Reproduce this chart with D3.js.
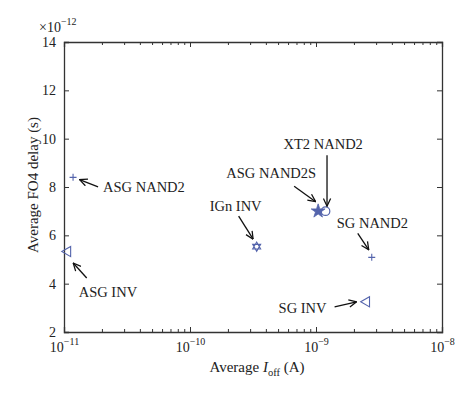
<!DOCTYPE html>
<html>
<head>
<meta charset="utf-8">
<script src="https://cdn.jsdelivr.net/npm/d3@7"></script>
<style>
  body { margin: 0; background: #fff; }
  text { font-family: "Liberation Serif", "Times New Roman", serif; fill: #222; }
</style>
</head>
<body>
<div id="chart"></div>
<script>
// gate designs, average off current (A) and average FO4 delay (x 1e-12 s)
var names  = ["ASG NAND2", "ASG INV", "IGn INV", "ASG NAND2S", "XT2 NAND2", "SG NAND2", "SG INV"];
var ioff   = [1.18e-11, 1.07e-11, 3.38e-10, 1.04e-9, 1.19e-9, 2.77e-9, 2.52e-9];
var delay  = [8.4, 5.33, 5.53, 7.0, 7.0, 5.09, 3.25];
var shapes = ["plus", "triLeft", "hexagram", "star", "circle", "plus", "triLeft"];

var xMajor = [1e-11, 1e-10, 1e-9, 1e-8];
var xExp   = ["\u221211", "\u221210", "\u22129", "\u22128"];
var yTicks = [2, 4, 6, 8, 10, 12, 14];

// label placement relative to the point: text start, arrow tail, arrow head (px)
var notes = [
  { anchor: "start", tx: 30,  ty: 14.5, ax: 25,  ay: 9.5,  bx: 6.5,  by: 2.3 },
  { anchor: "start", tx: 11,  ty: 45,   ax: 19,  ay: 26.5, bx: 5.5,  by: 11.5 },
  { anchor: "start", tx: -47, ty: -36,  ax: -18, ay: -30.5, bx: -3.5, by: -7.5 },
  { anchor: "end",   tx: -2,  ty: -33,  ax: -24, ay: -25,  bx: -2.5, by: -9.5 },
  { anchor: "start", tx: -42, ty: -62.5, ax: 1.5, ay: -56, bx: 1.5,  by: -5 },
  { anchor: "start", tx: -35, ty: -29,  ax: -14, ay: -24,  bx: -3,   by: -7.5 },
  { anchor: "start", tx: -88, ty: 11,   ax: -32, ay: 5,    bx: -10,  by: 0 }
];

var W = 474, H = 395;
var mLeft = 64, mRight = 442, mTop = 42, mBottom = 332;
var blue = "#5464ac";
var axisCol = "#333";

var svg = d3.select("#chart").append("svg")
            .attr("width", W)
            .attr("height", H);

svg.append("defs").append("marker")
   .attr("id", "arrow")
   .attr("viewBox", "0 0 10 10")
   .attr("refX", 9.5).attr("refY", 5)
   .attr("markerWidth", 9).attr("markerHeight", 9)
   .attr("markerUnits", "userSpaceOnUse")
   .attr("orient", "auto")
   .append("path")
   .attr("d", "M1,1 L9.5,5 L1,9")
   .attr("fill", "none")
   .attr("stroke", "#111")
   .attr("stroke-width", 1.4);

var x = d3.scaleLog().domain([1e-11, 1e-8]).range([mLeft, mRight]);
var y = d3.scaleLinear().domain([2, 14]).range([mBottom, mTop]);

function isMajor(d) {
  return xMajor.some(function(m) { return Math.abs(m - d) / m < 1e-6; });
}

/** x axes, bottom and top, ticks pointing inside **/
var xTicks = x.ticks();
var gxb = svg.append("g")
             .attr("transform", "translate(0," + mBottom + ")")
             .call(d3.axisBottom(x).tickValues(xTicks).tickSize(-5).tickFormat(""));
var gxt = svg.append("g")
             .attr("transform", "translate(0," + mTop + ")")
             .call(d3.axisTop(x).tickValues(xTicks).tickSize(-5).tickFormat(""));
[gxb, gxt].forEach(function(g, i) {
  g.selectAll(".tick line")
   .attr("y2", function(d) { return (isMajor(d) ? 5 : 3) * (i === 0 ? -1 : 1); });
});

gxb.selectAll(".tick text")
   .filter(function(d) { return isMajor(d); })
   .attr("dy", null)
   .attr("y", 20)
   .attr("font-size", 14)
   .style("fill", "#222")
   .each(function(d) {
     var t = d3.select(this);
     var k = xMajor.findIndex(function(m) { return Math.abs(m - d) / m < 1e-6; });
     t.append("tspan").text("10");
     t.append("tspan").text(xExp[k]).attr("font-size", 10).attr("dy", -7);
   });

/** y axes, left and right **/
var gyl = svg.append("g")
             .attr("transform", "translate(" + mLeft + ",0)")
             .call(d3.axisLeft(y).tickValues(yTicks).tickSize(-5).tickPadding(8));
var gyr = svg.append("g")
             .attr("transform", "translate(" + mRight + ",0)")
             .call(d3.axisRight(y).tickValues(yTicks).tickSize(-5).tickFormat(""));
gyl.selectAll(".tick text").attr("font-size", 14).style("fill", "#222");

[gxb, gxt, gyl, gyr].forEach(function(g) {
  g.select(".domain").attr("stroke", axisCol).attr("stroke-width", 1.3);
  g.selectAll(".tick line").attr("stroke", axisCol).attr("stroke-width", 1);
});

/** exponent note **/
var ex = svg.append("text").attr("x", 39).attr("y", 32).attr("font-size", 14);
ex.append("tspan").text("\u00d710");
ex.append("tspan").text("\u221212").attr("font-size", 10).attr("dy", -7);

/** axis titles **/
var xt = svg.append("text")
            .attr("x", (mLeft + mRight) / 2 + 4)
            .attr("y", 372)
            .attr("text-anchor", "middle")
            .attr("font-size", 15);
xt.append("tspan").text("Average ");
xt.append("tspan").text("I").style("font-style", "italic");
xt.append("tspan").text("off").attr("font-size", 10.5).attr("dy", 4);
xt.append("tspan").text(" (A)").attr("dy", -4);

svg.append("text")
   .attr("transform", "translate(38," + 185 + ") rotate(-90)")
   .attr("text-anchor", "middle")
   .attr("font-size", 15)
   .text("Average FO4 delay (s)");

/** markers **/
function hexagram(r) {
  var p = [];
  [-90, 90].forEach(function(a0) {
    var pts = [0, 1, 2].map(function(i) {
      var a = (a0 + i * 120) * Math.PI / 180;
      return [r * Math.cos(a), r * Math.sin(a)];
    });
    p.push("M" + pts.join("L") + "Z");
  });
  return p.join("");
}

var pts = svg.append("g").selectAll("g")
             .data(names)
             .enter().append("g")
             .attr("transform", function(d, i) { return "translate(" + x(ioff[i]) + "," + y(delay[i]) + ")"; });

pts.each(function(d, i) {
  var g = d3.select(this);
  var s = shapes[i];
  if (s === "plus") {
    g.append("path").attr("d", "M-3.5,0H3.5M0,-3.5V3.5")
     .attr("stroke", blue).attr("stroke-width", 1.1).attr("fill", "none");
  } else if (s === "triLeft") {
    g.append("path").attr("d", d3.symbol().type(d3.symbolTriangle).size(45)())
     .attr("transform", "rotate(-90)")
     .attr("stroke", blue).attr("stroke-width", 1.1).attr("fill", "none");
  } else if (s === "hexagram") {
    g.append("path").attr("d", hexagram(4.6))
     .attr("stroke", blue).attr("stroke-width", 1.1).attr("fill", "none");
  } else if (s === "star") {
    g.append("path").attr("d", d3.symbol().type(d3.symbolStar).size(60)())
     .attr("fill", blue).attr("stroke", blue).attr("stroke-width", 0.8);
  } else if (s === "circle") {
    g.append("circle").attr("r", 4.3)
     .attr("fill", "none").attr("stroke", blue).attr("stroke-width", 1.2);
  }
});

/** annotations **/
pts.each(function(d, i) {
  var g = d3.select(this);
  var n = notes[i];
  g.append("line")
   .attr("x1", n.ax).attr("y1", n.ay)
   .attr("x2", n.bx).attr("y2", n.by)
   .attr("stroke", "#111").attr("stroke-width", 1.3)
   .attr("marker-end", "url(#arrow)");
  g.append("text")
   .attr("x", n.tx).attr("y", n.ty)
   .attr("text-anchor", n.anchor)
   .attr("font-size", 14.5)
   .text(d);
});
</script>
</body>
</html>
